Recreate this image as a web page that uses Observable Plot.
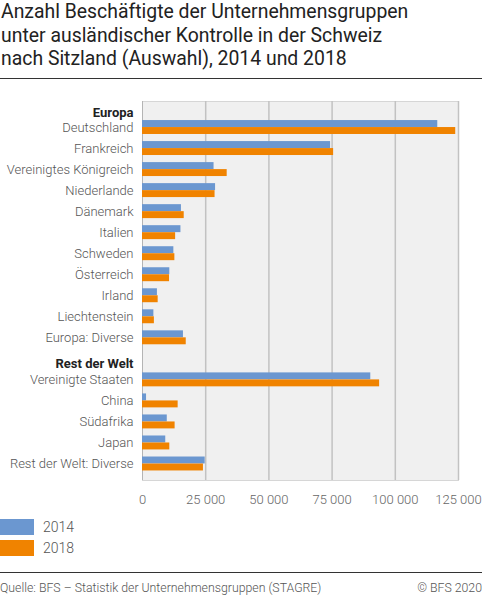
<!DOCTYPE html>
<html>
<head>
<meta charset="utf-8">
<script src="https://cdn.jsdelivr.net/npm/d3@7"></script>
<script src="https://cdn.jsdelivr.net/npm/@observablehq/plot@0.6"></script>
<style>
  html, body { margin: 0; padding: 0; background: #fff; }
  body { width: 482px; height: 596px; overflow: hidden; font-family: Roboto, sans-serif; position: relative; }
  #title { font-size: 19.4px; line-height: 23.5px; color: #222; height: 78px; border-bottom: 1px solid #333; margin: 0; padding: 0 0 0 1px; white-space: nowrap; }
  #chart { height: 435px; margin-top: 1px; }
  #chart svg { display: block; }
  #legend { margin-top: 4px; }
  .lg { display: flex; align-items: center; height: 16px; margin-bottom: 5px; font-size: 14px; color: #555; font-weight: 300; }
  .sw { width: 34px; height: 16px; margin-right: 9px; }
  #footer { position: absolute; top: 572px; left: 0; width: 482px; border-top: 1px solid #333; font-size: 12.3px; color: #555; font-weight: 300; display: flex; justify-content: space-between; padding-top: 8px; }
</style>
</head>
<body>
<div id="title">Anzahl Beschäftigte der Unternehmensgruppen<br>unter ausländischer Kontrolle in der Schweiz<br>nach Sitzland (Auswahl), 2014 und 2018</div>
<div id="chart"></div>
<div id="legend"></div>
<div id="footer"><span>Quelle: BFS – Statistik der Unternehmensgruppen (STAGRE)</span><span>© BFS 2020</span></div>
<script>
const groupNames = ["Europa", "Rest der Welt"];
const europa = ["Deutschland", "Frankreich", "Vereinigtes Königreich", "Niederlande", "Dänemark", "Italien", "Schweden", "Österreich", "Irland", "Liechtenstein", "Europa: Diverse"];
const welt = ["Vereinigte Staaten", "China", "Südafrika", "Japan", "Rest der Welt: Diverse"];
const years = ["2014", "2018"];
const values2014 = [116800, 74400, 28300, 28900, 15400, 15200, 12400, 10800, 5900, 4500, 16200, 90300, 1600, 9800, 9200, 24800];
const values2018 = [123900, 75600, 33500, 28700, 16500, 13100, 12800, 10700, 6200, 4700, 17300, 93800, 14100, 12900, 10800, 24100];
const xTicks = [0, 25000, 50000, 75000, 100000, 125000];
const colors = ["#6b97d0", "#f08300"];

const countries = [...europa, ...welt];
const rows = [...europa, "—", ...welt];
const data2014 = countries.map((c, i) => ({country: c, value: values2014[i], year: years[0]}));
const data2018 = countries.map((c, i) => ({country: c, value: values2018[i], year: years[1]}));

const loc = d3.formatLocale({decimal: ".", thousands: " ", grouping: [3], currency: ["", ""]});
const fmt = loc.format(",d");

const bw = (380 - 21.5) / rows.length;
const barH = 7;

const chart = Plot.plot({
  width: 482,
  height: 435,
  marginTop: 21,
  marginBottom: 35,
  marginLeft: 142,
  marginRight: 24,
  style: {fontFamily: "Roboto, sans-serif", fontSize: "13px", fontWeight: 300, color: "#666", background: "transparent"},
  x: {domain: [0, 125000], ticks: xTicks, tickFormat: fmt, tickSize: 0, tickPadding: 14, label: null},
  y: {domain: rows, padding: 0, insetTop: 15.5, insetBottom: 6, axis: null, round: false},
  marks: [
    Plot.frame({fill: "#f0f0f0", stroke: "#d6d6d6"}),
    Plot.ruleX(xTicks.slice(1), {stroke: "#c2c2c2", strokeWidth: 1.5}),
    Plot.ruleX([0], {stroke: "#b4b4b4", strokeWidth: 1}),
    Plot.barX(data2014, {x: "value", y: "country", fill: colors[0], insetTop: bw / 2 - barH, insetBottom: bw / 2}),
    Plot.barX(data2018, {x: "value", y: "country", fill: colors[1], insetTop: bw / 2, insetBottom: bw / 2 - barH}),
    Plot.text(countries, {x: 0, y: d => d, text: d => d, textAnchor: "end", dx: -9, fill: "#555", fontSize: 13, fontWeight: 300}),
    Plot.text([groupNames[0]], {x: 0, y: () => europa[0], text: d => d, textAnchor: "end", dx: -9, dy: -15, fill: "#222", fontWeight: "bold", fontSize: 13}),
    Plot.text([groupNames[1]], {x: 0, y: () => "—", text: d => d, textAnchor: "end", dx: -9, dy: 5, fill: "#222", fontWeight: "bold", fontSize: 13})
  ]
});
document.getElementById("chart").appendChild(chart);

const legend = document.getElementById("legend");
years.forEach((y, i) => {
  const row = document.createElement("div");
  row.className = "lg";
  const sw = document.createElement("div");
  sw.className = "sw";
  sw.style.background = colors[i];
  const t = document.createElement("span");
  t.textContent = y;
  row.appendChild(sw);
  row.appendChild(t);
  legend.appendChild(row);
});
</script>
</body>
</html>
